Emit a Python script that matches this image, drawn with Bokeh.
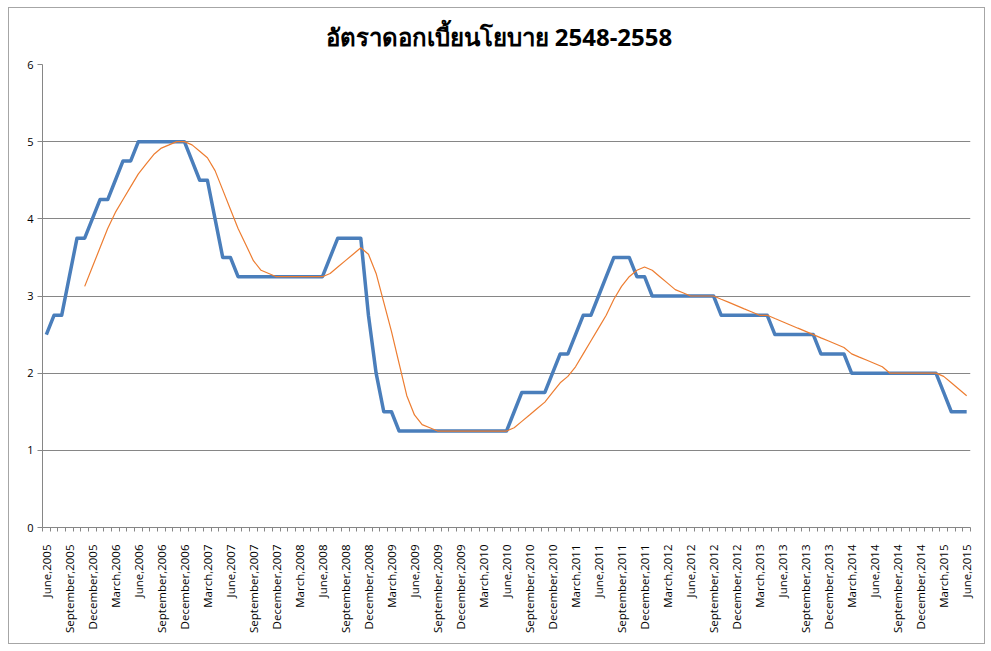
import math
from bokeh.plotting import figure
from bokeh.models import FixedTicker, Range1d
from bokeh.embed import file_html
from bokeh.resources import INLINE

# ---- data ----
month_names = ["June", "July", "August", "September", "October", "November",
               "December", "January", "February", "March", "April", "May"]
months = []
yr = 2005
mi = 0
for k in range(121):
    name = month_names[mi]
    if name == "January" and k > 0:
        yr += 1
    months.append(f"{name},{yr}")
    mi = (mi + 1) % 12

policy_rate = [
    2.5, 2.75, 2.75, 3.25, 3.75, 3.75, 4.0, 4.25, 4.25, 4.5, 4.75, 4.75,
    5.0, 5.0, 5.0, 5.0, 5.0, 5.0, 5.0, 4.75, 4.5, 4.5, 4.0, 3.5,
    3.5, 3.25, 3.25, 3.25, 3.25, 3.25, 3.25, 3.25, 3.25, 3.25, 3.25, 3.25,
    3.25, 3.5, 3.75, 3.75, 3.75, 3.75, 2.75, 2.0, 1.5, 1.5, 1.25, 1.25,
    1.25, 1.25, 1.25, 1.25, 1.25, 1.25, 1.25, 1.25, 1.25, 1.25, 1.25, 1.25,
    1.25, 1.5, 1.75, 1.75, 1.75, 1.75, 2.0, 2.25, 2.25, 2.5, 2.75, 2.75,
    3.0, 3.25, 3.5, 3.5, 3.5, 3.25, 3.25, 3.0, 3.0, 3.0, 3.0, 3.0,
    3.0, 3.0, 3.0, 3.0, 2.75, 2.75, 2.75, 2.75, 2.75, 2.75, 2.75, 2.5,
    2.5, 2.5, 2.5, 2.5, 2.5, 2.25, 2.25, 2.25, 2.25, 2.0, 2.0, 2.0,
    2.0, 2.0, 2.0, 2.0, 2.0, 2.0, 2.0, 2.0, 2.0, 1.75, 1.5, 1.5,
    1.5,
]

# 6-month moving average trend line (starts at November 2005)
trend_start = 5
trend_values = [
    3.125, 3.375, 3.625, 3.875, 4.083, 4.25, 4.417, 4.583, 4.708, 4.833,
    4.917, 4.958, 5.0, 5.0, 4.958, 4.875, 4.792, 4.625, 4.375, 4.125,
    3.875, 3.667, 3.458, 3.333, 3.292, 3.25, 3.25, 3.25, 3.25, 3.25,
    3.25, 3.25, 3.292, 3.375, 3.458, 3.542, 3.625, 3.542, 3.292, 2.917,
    2.542, 2.125, 1.708, 1.458, 1.333, 1.292, 1.25, 1.25, 1.25, 1.25,
    1.25, 1.25, 1.25, 1.25, 1.25, 1.25, 1.292, 1.375, 1.458, 1.542,
    1.625, 1.75, 1.875, 1.958, 2.083, 2.25, 2.417, 2.583, 2.75, 2.958,
    3.125, 3.25, 3.333, 3.375, 3.333, 3.25, 3.167, 3.083, 3.042, 3.0,
    3.0, 3.0, 3.0, 2.958, 2.917, 2.875, 2.833, 2.792, 2.75, 2.75,
    2.708, 2.667, 2.625, 2.583, 2.542, 2.5, 2.458, 2.417, 2.375, 2.333,
    2.25, 2.208, 2.167, 2.125, 2.083, 2.0, 2.0, 2.0, 2.0, 2.0,
    2.0, 2.0, 1.958, 1.875, 1.792, 1.708,
]

y_ticks = [0, 1, 2, 3, 4, 5, 6]
title_text = "อัตราดอกเบี้ยนโยบาย 2548-2558"

# ---- figure ----
x_idx = list(range(len(policy_rate)))
trend_x = list(range(trend_start, trend_start + len(trend_values)))

p = figure(width=975, height=635, output_backend="svg", toolbar_location=None,
           x_range=Range1d(-0.5, len(policy_rate) - 0.5), y_range=Range1d(0, 6),
           min_border_left=33, min_border_right=14, min_border_top=56,
           min_border_bottom=116)
p.margin = (8, 7, 8, 9)
p.styles = {"outline": "1px solid #a6a6a6"}

p.title.text = title_text
p.title.align = "left"
p.title.offset = 283
p.title.vertical_align = "top"
p.title.text_font = "Noto Sans"
p.title.text_font_size = "24px"
p.title.text_font_style = "bold"
p.title.text_color = "#000000"
p.title.standoff = 20

p.outline_line_color = None
p.background_fill_color = "white"
p.border_fill_color = "white"

# y axis
p.yaxis.ticker = FixedTicker(ticks=y_ticks, minor_ticks=[])
p.yaxis.axis_line_color = "#868686"
p.yaxis.major_tick_line_color = "#868686"
p.yaxis.major_tick_out = 5
p.yaxis.major_tick_in = 0
p.yaxis.minor_tick_line_color = None
p.yaxis.major_label_text_font = "Open Sans"
p.yaxis.major_label_text_font_size = "11px"
p.yaxis.major_label_text_color = "#000000"
p.yaxis.major_label_standoff = 4

# x axis
label_ticks = list(range(0, len(months), 3))
p.xaxis.ticker = FixedTicker(ticks=label_ticks,
                             minor_ticks=[i - 0.5 for i in range(len(months) + 1)])
p.xaxis.major_label_overrides = {i: months[i] for i in label_ticks}
p.xaxis.major_label_orientation = math.pi / 2
p.xaxis.axis_line_color = "#868686"
p.xaxis.major_tick_line_color = None
p.xaxis.minor_tick_line_color = "#868686"
p.xaxis.minor_tick_out = 4
p.xaxis.minor_tick_in = 0
p.xaxis.major_label_text_font = "Open Sans"
p.xaxis.major_label_text_font_size = "11.5px"
p.xaxis.major_label_text_color = "#000000"
p.xaxis.major_label_standoff = 11

p.xgrid.grid_line_color = None
p.ygrid.ticker = FixedTicker(ticks=y_ticks)
p.ygrid.grid_line_color = "#868686"
p.ygrid.grid_line_width = 1

p.line(x_idx, policy_rate, line_color="#4a7ebb", line_width=3.5,
       line_join="round")
p.line(trend_x, trend_values, line_color="#ed7d31", line_width=1.2)

open("out.html", "w").write(file_html(p, INLINE))
